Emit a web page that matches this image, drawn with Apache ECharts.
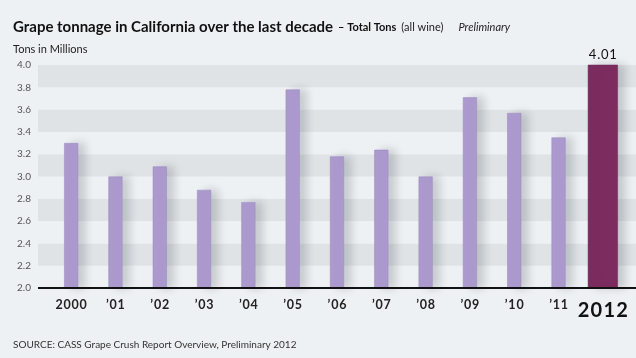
<!DOCTYPE html>
<html><head><meta charset="utf-8">
<script src="https://cdn.jsdelivr.net/npm/echarts@6/dist/echarts.min.js"></script>
<style>html,body{margin:0;padding:0;background:#eef1f3;}#c{width:636px;height:358px;}</style>
</head><body><div id="c"></div>
<script>
var categories = ['2000', '\u201901', '\u201902', '\u201903', '\u201904', '\u201905', '\u201906', '\u201907', '\u201908', '\u201909', '\u201910', '\u201911', '2012'];
var tons = [3.30, 3.00, 3.09, 2.88, 2.77, 3.78, 3.18, 3.24, 3.00, 3.71, 3.57, 3.35, 4.01];
var yTicks = ['2.0','2.2','2.4','2.6','2.8','3.0','3.2','3.4','3.6','3.8','4.0'];

var chart = echarts.init(document.getElementById('c'));
var F = 'Lato, "Open Sans", sans-serif';
var last = categories.length - 1;
var pastData = tons.map(function (v, i) { return i === last ? '-' : v; });
var lastData = tons.map(function (v, i) { return i === last ? v : '-'; });
chart.setOption({
  backgroundColor: '#eef1f3',
  animation: false,
  title: [{
    left: 8, top: 13,
    text: '{a|Grape tonnage in California over the last decade} {b|\u2013 Total Tons} {c|(all wine)}   {d|Preliminary}',
    textStyle: {
      fontWeight: 'normal',
      rich: {
        a: { fontFamily: F, fontWeight: 'bold', fontSize: 15, color: '#111' },
        b: { fontFamily: F, fontWeight: 'bold', fontSize: 11, color: '#111' },
        c: { fontFamily: F, fontWeight: 'normal', fontSize: 11, color: '#222' },
        d: { fontFamily: F, fontWeight: 'normal', fontStyle: 'italic', fontSize: 11, color: '#222' }
      }
    }
  }, {
    left: 8, top: 39, text: 'Tons in Millions',
    textStyle: { fontFamily: F, fontSize: 11, fontWeight: 'normal', color: '#222' }
  }, {
    left: 8, top: 335, text: 'SOURCE: CASS Grape Crush Report Overview, Preliminary 2012',
    textStyle: { fontFamily: F, fontSize: 10, fontWeight: 'normal', color: '#333' }
  }],
  grid: [
    { left: 38, right: 0, top: 65, bottom: 70 },
    { left: 49, right: 11, top: 65, bottom: 70 }
  ],
  xAxis: [{
    gridIndex: 0, type: 'value', min: 0, max: 1,
    axisLine: { show: false }, axisTick: { show: false }, axisLabel: { show: false }, splitLine: { show: false }
  }, {
    gridIndex: 1, type: 'category', data: categories,
    axisLine: { show: false },
    axisTick: { show: false },
    axisLabel: {
      interval: 0, margin: 10, fontFamily: F, fontWeight: 'bold', fontSize: 12.5, color: '#222',
      formatter: function (v, i) { return i === last ? '{big|' + v.split('').join('\u200a') + '}' : v.split('').join('\u200a'); },
      rich: { big: { fontFamily: F, fontWeight: 'bold', fontSize: 20, color: '#111', padding: [3, 0, 0, 0] } }
    }
  }, {
    gridIndex: 1, type: 'category', data: categories, position: 'bottom',
    axisLine: { show: false }, axisTick: { show: false }, axisLabel: { show: false }
  }],
  yAxis: [{
    gridIndex: 0, type: 'value', min: 2.0, max: 4.0, interval: 0.2,
    axisLine: { show: false }, axisTick: { show: false },
    axisLabel: { margin: 7, fontFamily: F, fontSize: 10, color: '#555', formatter: function (v) { return v.toFixed(1); } },
    splitLine: { show: false },
    splitArea: { show: true, areaStyle: { color: ['#eef1f3', '#dfe3e6'] } }
  }, {
    gridIndex: 1, type: 'value', min: 2.0, max: 4.0, interval: 0.2,
    axisLine: { show: false }, axisTick: { show: false }, axisLabel: { show: false }, splitLine: { show: false }
  }],
  series: [{
    type: 'line', xAxisIndex: 0, yAxisIndex: 0, data: [[0, 2.0], [1, 2.0]],
    symbol: 'none', lineStyle: { color: '#111', width: 2 }, z: 5, silent: true
  }, {
    type: 'bar', xAxisIndex: 1, yAxisIndex: 1, data: pastData,
    barWidth: 14,
    itemStyle: {
      color: '#ad9bcf', borderColor: '#9686bd', borderWidth: 0.5,
      shadowColor: 'rgba(60,70,80,0.22)', shadowBlur: 8, shadowOffsetX: 7
    },
    z: 3
  }, {
    type: 'bar', xAxisIndex: 2, yAxisIndex: 1, data: lastData,
    barWidth: 30,
    itemStyle: {
      color: '#7c2c5e', borderColor: '#6a2450', borderWidth: 0.5,
      shadowColor: 'rgba(60,70,80,0.22)', shadowBlur: 8, shadowOffsetX: 7
    },
    label: { show: true, position: 'top', distance: 3, color: '#111', fontSize: 13, fontFamily: F,
      formatter: function (p) { return p.value.toFixed(2).split('').join('\u200a'); } },
    z: 3
  }]
});
</script></body></html>
